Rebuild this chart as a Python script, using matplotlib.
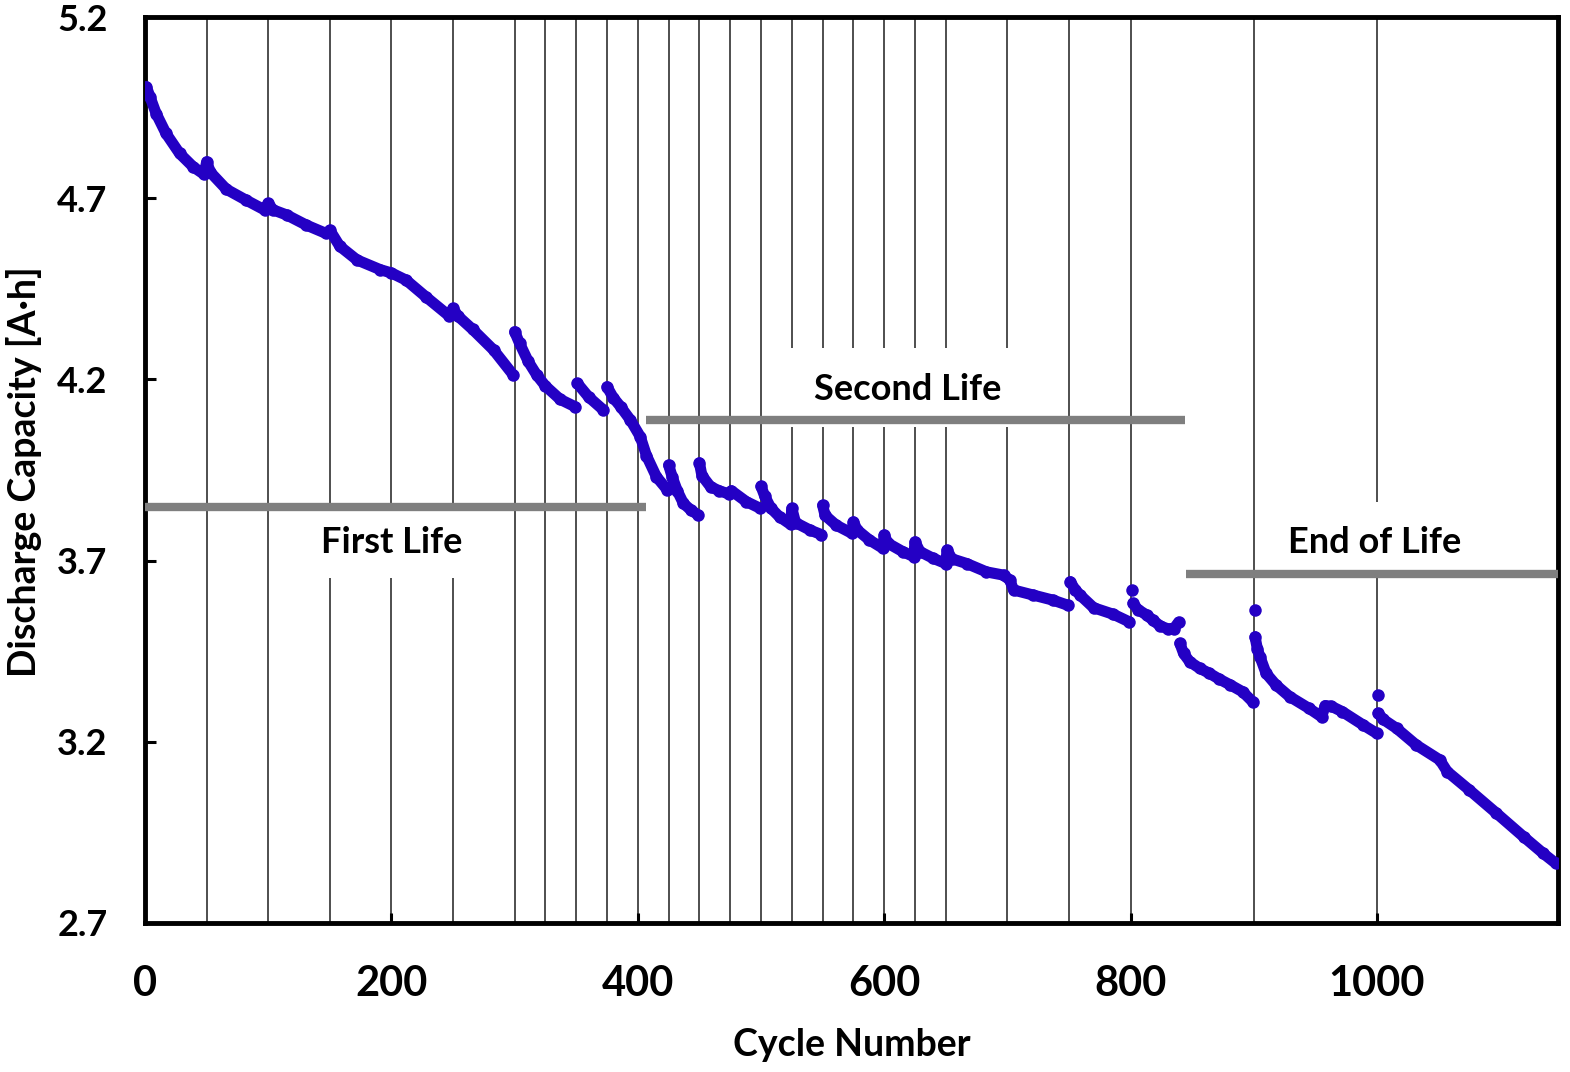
import numpy as np
import matplotlib.pyplot as plt
from matplotlib.patches import Rectangle

plt.rcParams['font.family'] = ['Lato', 'DejaVu Sans']

# discharge capacity per cycle, None separates the test runs
cycle = [1, 4, 9, 17, 28, 39, 48, 50, 53, 66, 82, 97, 100, 104, 115, 131, 147, 150, 158, 172,
         191, 200, 212, 228, 247, 250, 254, 266, 283, 299, None,
         300, 304, 311, 318, 325, 337, 349, None,
         351, 360, 372, None,
         375, 380, 386, 394, 402, 407, 415, 424, None,
         425, 428, 432, 437, 443, 449, None,
         450, 452, 459, 466, 474, 476, 488, 499, None,
         500, 503, 508, 515, 524, 525, 528, 540, 549, None,
         550, 552, 561, 574, 575, 578, 588, 599, 600, 603, 615, 624, 625, 629, 640, 650, 651,
         655, 667, 683, 697, 702, 705, 721, 737, 749, None,
         751, 755, 759, 770, 786, 799, None,
         801, None,
         802, 806, 813, 818, 824, 830, 835, 839, None,
         840, 843, 848, 856, 864, 872, 881, 891, 899, None,
         901, None,
         901, 903, 905, 910, 918, 929, 945, 955, 958, 963, 972, 989, 1000, None,
         1001, None,
         1001, 1005, 1016, 1032, 1051, 1057, 1075, 1097, 1119, 1135, 1145]
capacity = [5.008, 4.980, 4.934, 4.879, 4.824, 4.787, 4.766, 4.801, 4.772, 4.725, 4.695, 4.668,
            4.686, 4.668, 4.654, 4.626, 4.603, 4.612, 4.568, 4.530, 4.503, 4.494, 4.474, 4.428,
            4.375, 4.396, 4.375, 4.338, 4.281, 4.212, None,
            4.332, 4.300, 4.250, 4.212, 4.182, 4.145, 4.125, None,
            4.189, 4.152, 4.116, None,
            4.180, 4.150, 4.125, 4.088, 4.042, 3.990, 3.932, 3.895, None,
            3.964, 3.930, 3.893, 3.858, 3.840, 3.826, None,
            3.970, 3.935, 3.904, 3.893, 3.884, 3.893, 3.863, 3.845, None,
            3.905, 3.878, 3.845, 3.821, 3.800, 3.844, 3.805, 3.784, 3.772, None,
            3.853, 3.825, 3.798, 3.775, 3.807, 3.785, 3.757, 3.734, 3.771, 3.748, 3.725, 3.711,
            3.752, 3.725, 3.706, 3.692, 3.729, 3.705, 3.692, 3.669, 3.660, 3.646, 3.619, 3.605,
            3.591, 3.577, None,
            3.642, 3.620, 3.605, 3.570, 3.552, 3.531, None,
            3.619, None,
            3.582, 3.565, 3.550, 3.536, 3.520, 3.512, 3.512, 3.530, None,
            3.472, 3.444, 3.421, 3.403, 3.389, 3.373, 3.357, 3.338, 3.311, None,
            3.564, None,
            3.490, 3.455, 3.435, 3.389, 3.357, 3.325, 3.292, 3.269, 3.300, 3.298, 3.283, 3.246,
            3.223, None,
            3.329, None,
            3.279, 3.262, 3.237, 3.191, 3.150, 3.118, 3.067, 3.003, 2.938, 2.892, 2.865]

# cycles where characterisation tests were done
test_cycles = [50, 100, 150, 200, 250, 300, 325, 350, 375, 400, 425, 450, 475, 500,
               525, 550, 575, 600, 625, 650, 700, 750, 800, 900, 1000]

life_names = ['First Life', 'Second Life', 'End of Life']
life_start = [0, 407, 845]
life_end = [407, 844, 1147]
life_level = [3.849, 4.088, 3.662]

xticks = [0, 200, 400, 600, 800, 1000]
yticks = [2.7, 3.2, 3.7, 4.2, 4.7, 5.2]

fig = plt.figure(figsize=(15.7, 10.72), dpi=100)
ax = fig.add_axes([0.0924, 0.139, 0.900, 0.845])

for c in test_cycles:
    ax.axvline(c, color='#404040', lw=1.3, zorder=1)

# white boxes behind the labels cut the test lines
label_pos = [(200, 3.751), (619, 4.171), (998, 3.749)]
gaps = [(110, 297, 3.652, 3.849), (510, 740, 4.069, 4.287), (930, 1100, 3.662, 3.862)]
for x0, x1, y0, y1 in gaps:
    ax.add_patch(Rectangle((x0, y0), x1 - x0, y1 - y0, fc='white', ec='none', zorder=2))

for name, s, e, lev, (tx, ty) in zip(life_names, life_start, life_end, life_level, label_pos):
    ax.plot([s, e], [lev, lev], color='#7f7f7f', lw=6, solid_capstyle='butt', zorder=3)
    ax.text(tx, ty, name, fontsize=26, fontweight='bold', ha='center', va='center', zorder=4)

ax.plot(np.array(cycle, dtype=float), np.array(capacity, dtype=float), '-o',
        color='#2400c4', lw=8, ms=9, mew=0,
        solid_capstyle='round', solid_joinstyle='round', zorder=5)

ax.set_xlim(0, 1147)
ax.set_ylim(2.7, 5.2)
ax.set_xticks(xticks)
ax.set_yticks(yticks)
ax.set_yticklabels([f'{v:.1f}' for v in yticks])

for sp in ax.spines.values():
    sp.set_linewidth(3.5)
ax.tick_params(axis='x', direction='in', length=7, width=2.2, pad=30, labelsize=30)
ax.tick_params(axis='y', direction='in', length=8, width=2.2, pad=27, labelsize=26)
for lab in ax.get_xticklabels() + ax.get_yticklabels():
    lab.set_fontweight('bold')

ax.set_xlabel('Cycle Number', fontsize=27, fontweight='bold')
ax.set_ylabel('Discharge Capacity [A·h]', fontsize=27, fontweight='bold')
ax.xaxis.set_label_coords(0.5, -0.116)
ax.yaxis.set_label_coords(-0.073, 0.498)

fig.savefig('out.png', dpi=100)
